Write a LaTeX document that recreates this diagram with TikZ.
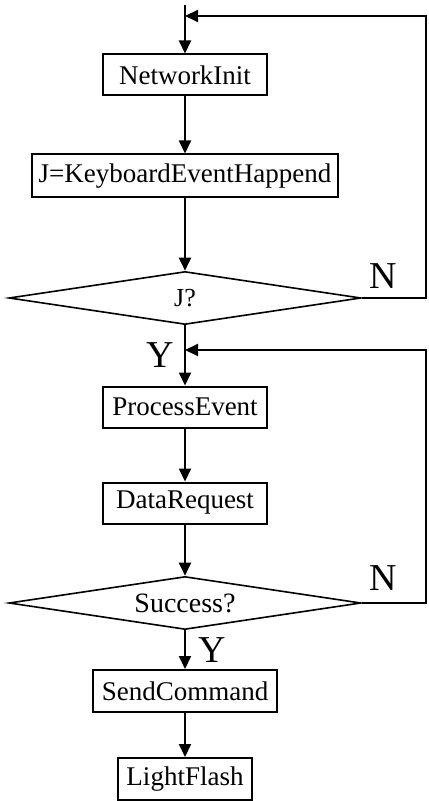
\documentclass[tikz,border=0pt]{standalone}
\usepackage{fontspec}
\setmainfont{Liberation Serif}
\usepackage{tikz}
\usetikzlibrary{arrows.meta, shapes.geometric}

\begin{document}
\begin{tikzpicture}[x=0.5pt, y=-0.5pt,
		box/.style={draw, line width=1pt, minimum height=20.5pt, inner sep=0pt, font=\fontsize{13.5}{15}\selectfont},
		decide/.style={draw, diamond, line width=0.8pt, aspect=6.6, minimum width=176pt, minimum height=26.5pt, inner sep=0pt},
		arr/.style={line width=1pt, -{Triangle[length=6.5pt, width=6pt]}},
		yn/.style={font=\fontsize{19}{21}\selectfont}]
	\useasboundingbox (0,0) rectangle (428,801);
	\coordinate (start) at (185,5);
	\coordinate (loopA) at (185,16);
	\node[box, minimum width=82pt] (init) at (185,75) {NetworkInit};
	\node[box, minimum width=153pt, minimum height=21.5pt] (kbd) at (185,176) {J=KeyboardEventHappend};
	\node[decide, font=\fontsize{13}{15}\selectfont] (testj) at (185,298) {J?};
	\coordinate (loopB) at (185,350);
	\node[box, minimum width=82pt] (proc) at (185,407) {ProcessEvent};
	\node[box, minimum width=82pt] (req) at (185,503) {DataRequest};
	\node[decide, font=\fontsize{14}{16}\selectfont] (testok) at (185,603) {Success?};
	\node[box, minimum width=92pt, minimum height=21pt] (send) at (185,691) {SendCommand};
	\node[box, minimum width=67pt, minimum height=21pt] (flash) at (185,779) {LightFlash};
	% main flow
	\draw[arr] (start) -- (init);
	\draw[arr] (init) -- (kbd);
	\draw[arr] (kbd) -- (testj);
	\draw[arr] (testj) -- (proc);
	\draw[arr] (proc) -- (req);
	\draw[arr] (req) -- (testok);
	\draw[arr] (testok) -- (send);
	\draw[arr] (send) -- (flash);
	% loops back
	\draw[arr] (testj.east) -- ++(64,0) |- (loopA);
	\draw[arr] (testok.east) -- ++(64,0) |- (loopB);
	\node[yn] (nj) at (383,276) {N};
	\node[yn] (yj) at (160,355) {Y};
	\node[yn] (nok) at (383,578) {N};
	\node[yn] (yok) at (212,650) {Y};
\end{tikzpicture}
\end{document}
